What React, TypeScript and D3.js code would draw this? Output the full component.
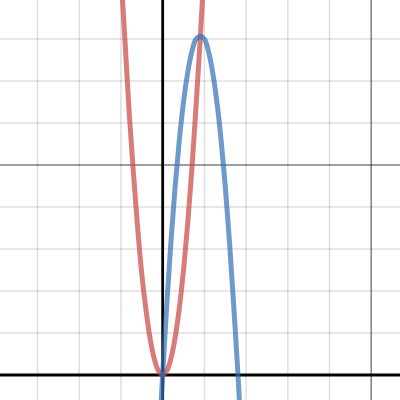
import { useEffect, useRef } from "react";
import * as d3 from "d3";

// values (graph units)
const xGrid = [-3, -2, -1, 1, 2, 3, 4, 5];
const yGrid = [1, 2, 3, 4, 5, 6, 7, 8];
const majorX = [5];
const majorY = [5];

const redX = [-1.02, -0.9, -0.8, -0.7, -0.6, -0.5, -0.4, -0.3, -0.2, -0.1, 0, 0.1, 0.2, 0.3, 0.4, 0.5, 0.6, 0.7, 0.8, 0.9, 1.0];
const redY = [9.9, 7.9, 6.2, 4.8, 3.5, 2.4, 1.55, 0.86, 0.38, 0.1, 0, 0.1, 0.4, 0.9, 1.6, 2.5, 3.6, 4.9, 6.4, 8.0, 9.8];

const blueX = [-0.04, 0, 0.1, 0.2, 0.3, 0.4, 0.5, 0.6, 0.7, 0.8, 0.9, 1.0, 1.1, 1.2, 1.3, 1.4, 1.5, 1.6, 1.7, 1.8, 1.85];
const blueY = [-0.7, 0, 1.7, 3.2, 4.5, 5.6, 6.5, 7.2, 7.7, 8.0, 8.06, 8.0, 7.7, 7.2, 6.5, 5.6, 4.5, 3.2, 1.7, 0.1, -0.8];

const App: React.FC = () => {
  const svgRef = useRef<SVGSVGElement | null>(null);

  useEffect(() => {
    if (!svgRef.current) return;
    const width = 400;
    const height = 400;
    const svg = d3.select(svgRef.current);
    svg.selectAll("*").remove();

    const x = d3.scaleLinear().domain([-3.9, 5.69]).range([0, width]);
    const y = d3.scaleLinear().domain([-0.595, 8.93]).range([height, 0]);

    // minor grid
    svg.append("g")
      .selectAll("line")
      .data(xGrid)
      .enter()
      .append("line")
      .attr("x1", d => x(d)).attr("x2", d => x(d))
      .attr("y1", 0).attr("y2", height)
      .attr("stroke", "#000").attr("stroke-opacity", 0.13).attr("stroke-width", 1.5);
    svg.append("g")
      .selectAll("line")
      .data(yGrid)
      .enter()
      .append("line")
      .attr("y1", d => y(d)).attr("y2", d => y(d))
      .attr("x1", 0).attr("x2", width)
      .attr("stroke", "#000").attr("stroke-opacity", 0.13).attr("stroke-width", 1.5);

    // major grid
    svg.append("g")
      .selectAll("line")
      .data(majorX)
      .enter()
      .append("line")
      .attr("x1", d => x(d)).attr("x2", d => x(d))
      .attr("y1", 0).attr("y2", height)
      .attr("stroke", "#000").attr("stroke-opacity", 0.42).attr("stroke-width", 1.5);
    svg.append("g")
      .selectAll("line")
      .data(majorY)
      .enter()
      .append("line")
      .attr("y1", d => y(d)).attr("y2", d => y(d))
      .attr("x1", 0).attr("x2", width)
      .attr("stroke", "#000").attr("stroke-opacity", 0.42).attr("stroke-width", 1.5);

    // axes
    svg.append("line")
      .attr("x1", x(0)).attr("x2", x(0)).attr("y1", 0).attr("y2", height)
      .attr("stroke", "#000").attr("stroke-width", 2.8);
    svg.append("line")
      .attr("y1", y(0)).attr("y2", y(0)).attr("x1", 0).attr("x2", width)
      .attr("stroke", "#000").attr("stroke-width", 2.8);

    const line = d3.line<number>()
      .x(d => x(d))
      .curve(d3.curveCatmullRom.alpha(0.5));

    svg.append("path")
      .attr("d", line.y((_d, i) => y(redY[i]))(redX))
      .attr("fill", "none")
      .attr("stroke", "#c74440").attr("stroke-opacity", 0.7)
      .attr("stroke-width", 5).attr("stroke-linejoin", "round");

    svg.append("path")
      .attr("d", line.y((_d, i) => y(blueY[i]))(blueX))
      .attr("fill", "none")
      .attr("stroke", "#2d70b3").attr("stroke-opacity", 0.7)
      .attr("stroke-width", 5).attr("stroke-linejoin", "round");
  }, []);

  return <svg ref={svgRef} width={400} height={400} style={{ position: "absolute", left: 0, top: 0, background: "#fff" }} />;
};

export default App;
